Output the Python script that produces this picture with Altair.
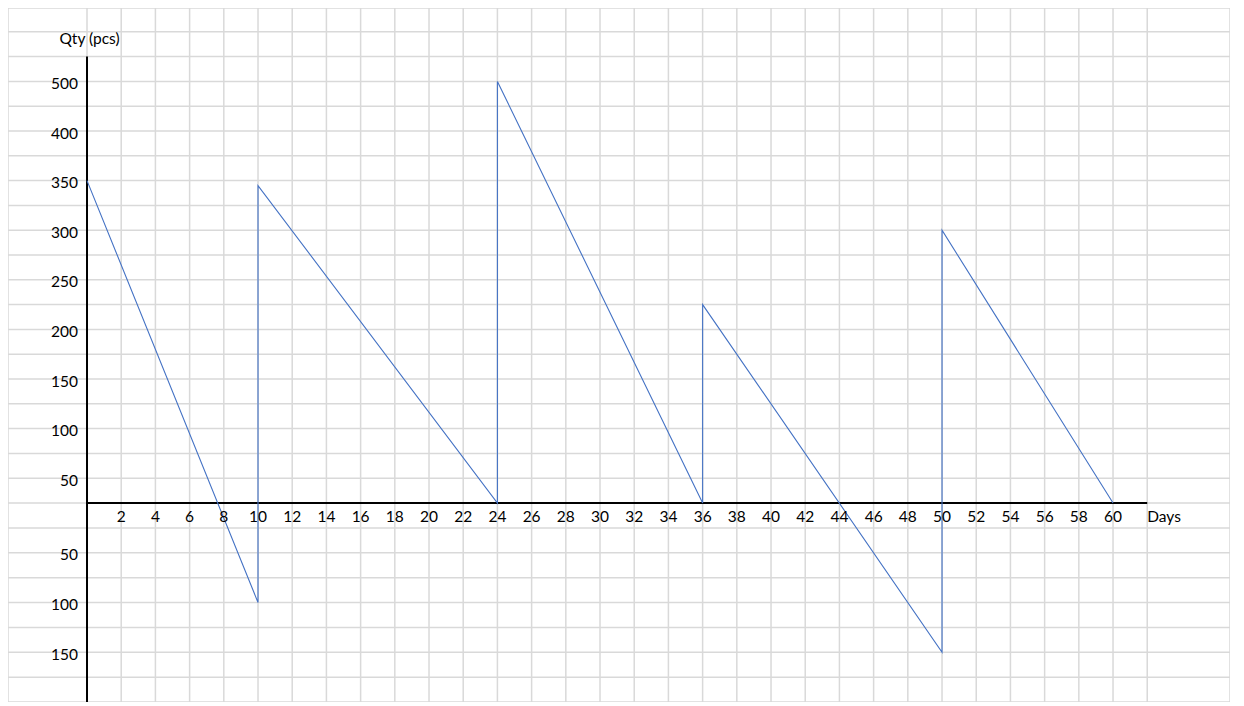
import altair as alt
import pandas as pd

# ---- data ----
days = [0, 10, 10, 24, 24, 36, 36, 50, 50, 60]
qty = [350, -100, 345, 0, 500, 0, 225, -150, 300, 0]

y_label_values = [500, 400, 350, 300, 250, 200, 150, 100, 50, -50, -100, -150]
x_label_days = [2, 4, 6, 8, 10, 12, 14, 16, 18, 20, 22, 24, 26, 28, 30,
                32, 34, 36, 38, 40, 42, 44, 46, 48, 50, 52, 54, 56, 58, 60]

# spreadsheet grid (one column = 2 days, rows follow the hand-made y scale)
grid_x = [0, 2, 4, 6, 8, 10, 12, 14, 16, 18, 20, 22, 24, 26, 28, 30, 32,
          34, 36, 38, 40, 42, 44, 46, 48, 50, 52, 54, 56, 58, 60, 62]
grid_y = [600, 550, 500, 450, 400, 375, 350, 325, 300, 275, 250, 225, 200,
          175, 150, 125, 100, 75, 50, 0, -25, -50, -75, -100, -125, -150, -175]

W, H = 1222, 694
FONT = "Lato"
FS = 15.5
GRID = "#d9d9d9"

line_df = pd.DataFrame({"day": days, "qty": qty, "i": list(range(len(days)))})
ylab_df = pd.DataFrame({"v": y_label_values})
xlab_df = pd.DataFrame({"d": x_label_days})
gx_df = pd.DataFrame({"gx": grid_x})
gy_df = pd.DataFrame({"gy": grid_y})
one = pd.DataFrame({"k": [0]})

xscale = alt.Scale(domain=[-4.62, 66.84], range=[0, W], nice=False, zero=False)
yscale = alt.Scale(domain=[-200, 0, 50, 400, 650],
                   range=[H, 495, 470.2, 123, -1], nice=False, zero=False)

noaxis = dict(grid=False, labels=False, ticks=False, domain=False, title=None)

gridv = alt.Chart(gx_df).mark_rule(color=GRID, strokeWidth=1.5).encode(
    x=alt.X("gx:Q", scale=xscale, axis=alt.Axis(**noaxis))
)
gridh = alt.Chart(gy_df).mark_rule(color=GRID, strokeWidth=1.5).encode(
    y=alt.Y("gy:Q", scale=yscale, axis=alt.Axis(**noaxis))
)

line = alt.Chart(line_df).mark_line(color="#4472C4", strokeWidth=1.1).encode(
    x=alt.X("day:Q", scale=xscale, axis=alt.Axis(**noaxis)),
    y=alt.Y("qty:Q", scale=yscale, axis=alt.Axis(**noaxis)),
    order=alt.Order("i:Q"),
)

vaxis = alt.Chart(one).mark_rule(color="black", strokeWidth=2).encode(
    x=alt.X(datum=0), y=alt.Y(datum=550), y2=alt.datum(-200)
)
haxis = alt.Chart(one).mark_rule(color="black", strokeWidth=2).encode(
    x=alt.X(datum=0), x2=alt.datum(62), y=alt.Y(datum=0)
)

ylabels = alt.Chart(ylab_df).transform_calculate(
    label="abs(datum.v)"
).mark_text(align="right", baseline="middle", dx=-9, dy=2.5,
            font=FONT, fontSize=FS, color="black").encode(
    x=alt.X(datum=0), y=alt.Y("v:Q"), text="label:N"
)

xlabels = alt.Chart(xlab_df).mark_text(
    align="center", baseline="middle", dy=13.5,
    font=FONT, fontSize=FS, color="black").encode(
    x=alt.X("d:Q"), y=alt.Y(datum=0), text="d:N"
)

days_title = alt.Chart(one).mark_text(
    align="left", baseline="middle", dy=14, text="Days",
    font=FONT, fontSize=FS, color="black").encode(
    x=alt.X(datum=62), y=alt.Y(datum=0)
)
qty_title = alt.Chart(one).mark_text(
    align="center", baseline="middle", dx=2.5, dy=-18, text="Qty (pcs)",
    font=FONT, fontSize=FS, color="black").encode(
    x=alt.X(datum=0), y=alt.Y(datum=550)
)

chart = alt.layer(
    gridv, gridh, vaxis, haxis, line, ylabels, xlabels, days_title, qty_title
).properties(
    width=W, height=H, padding=0,
    autosize=alt.AutoSizeParams(type="none"),
).configure_view(
    stroke=GRID, strokeWidth=1.5
)

chart.save("out.html", embed_options={"renderer": "svg", "actions": False})
